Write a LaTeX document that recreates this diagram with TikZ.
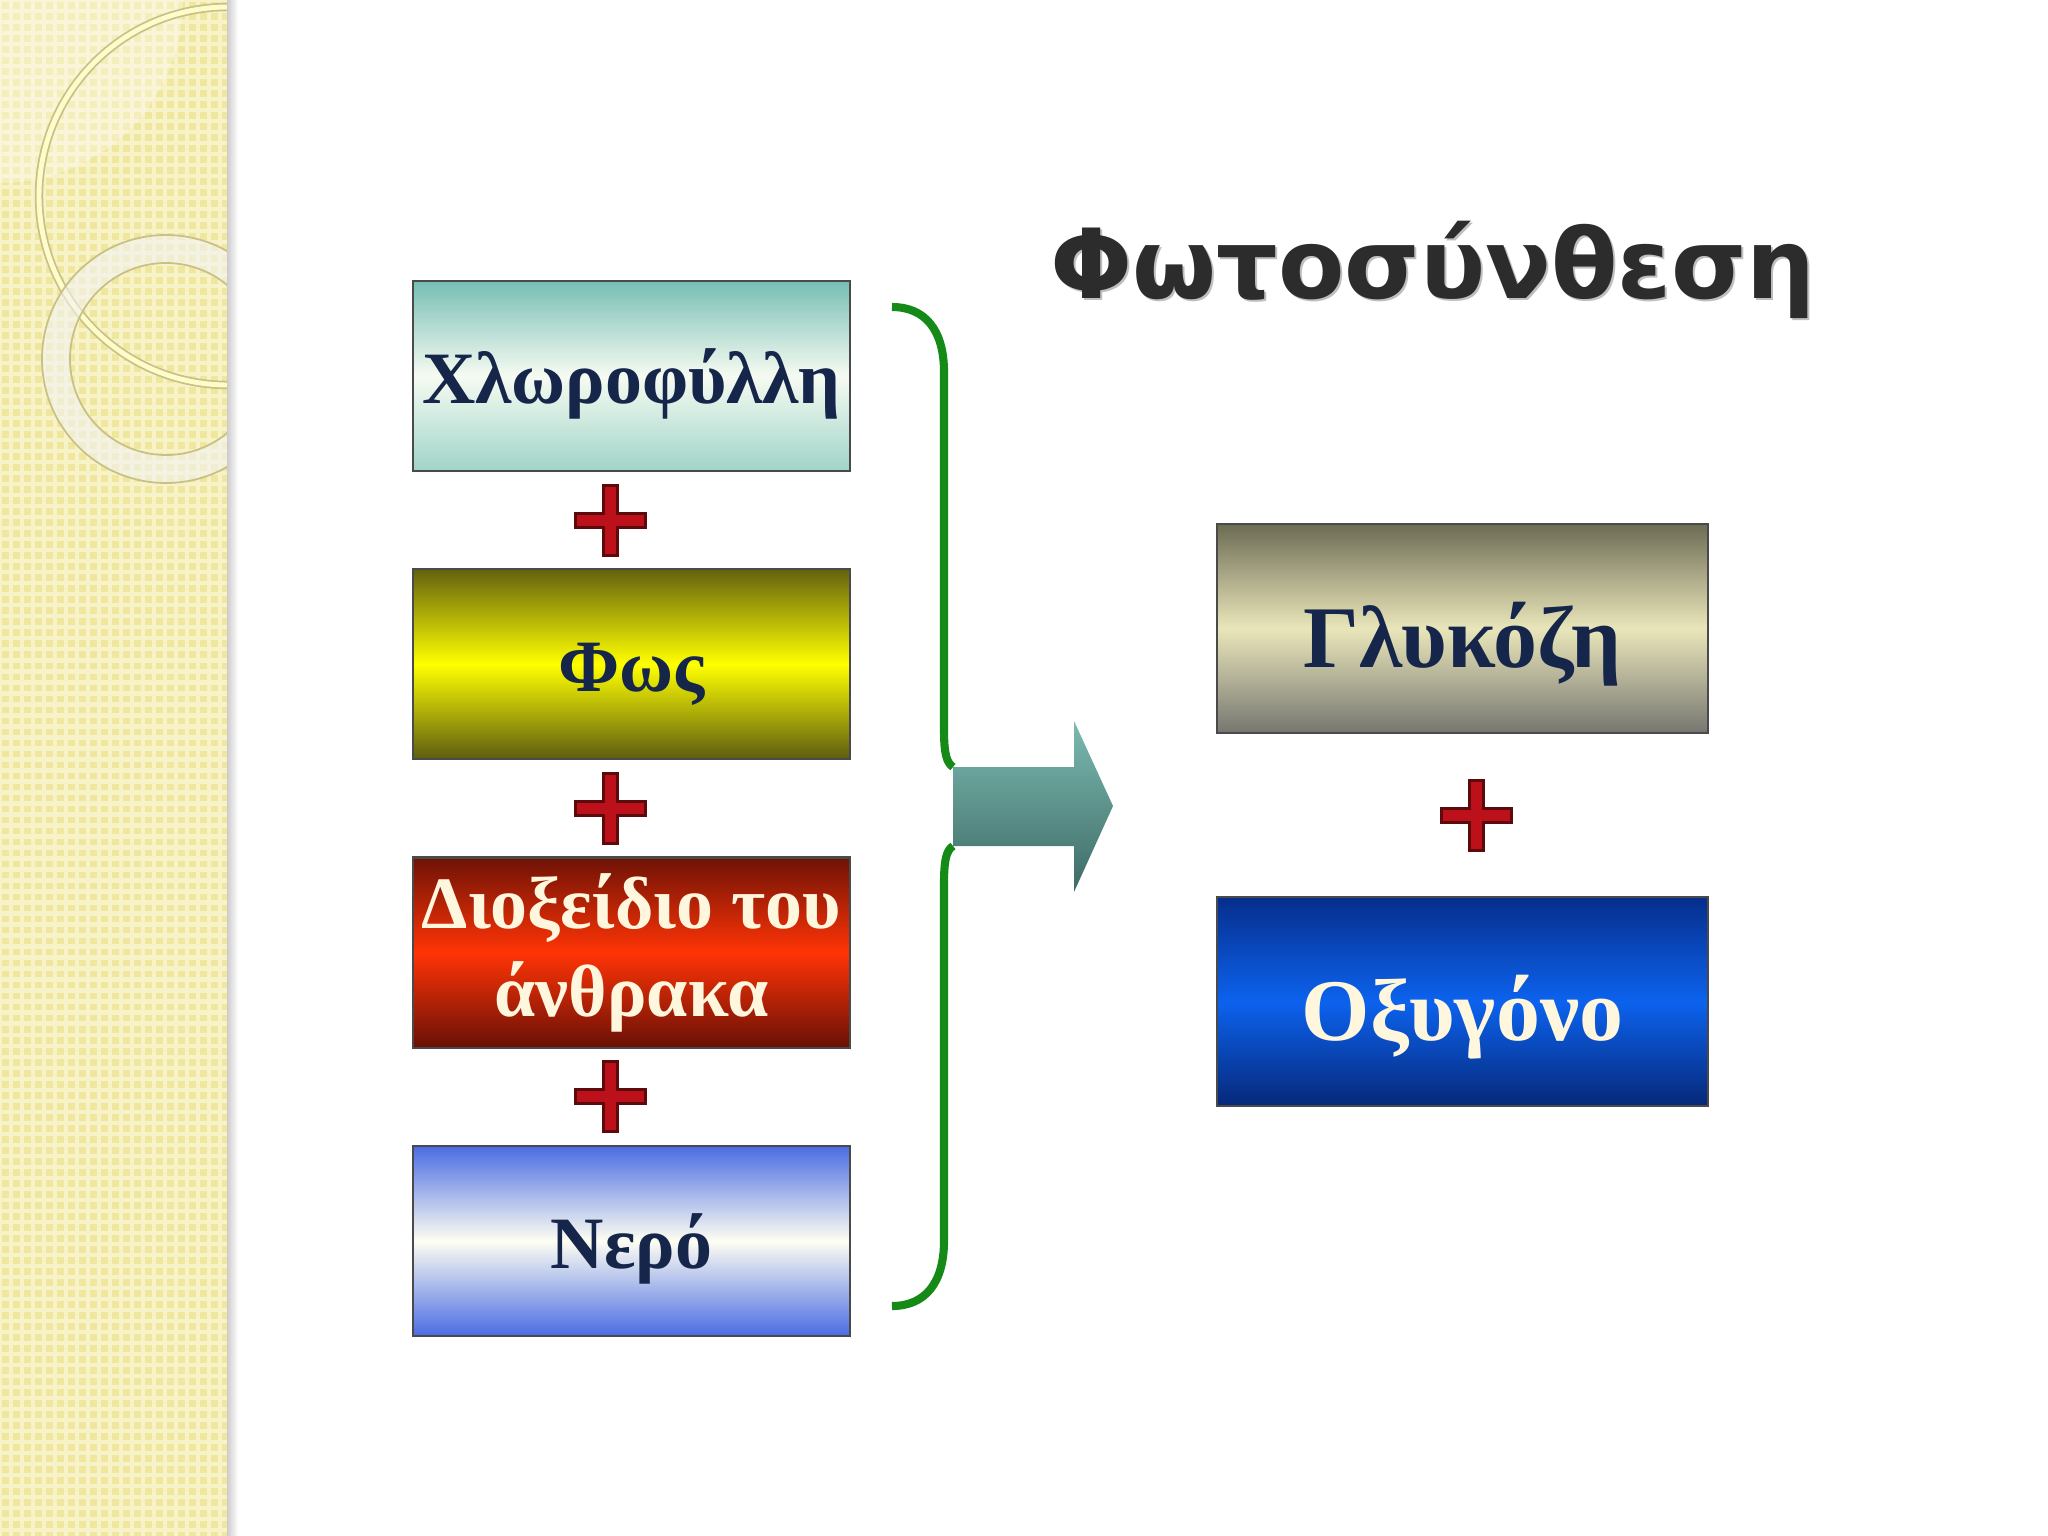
\documentclass[tikz,border=0pt]{standalone}
\usepackage{fontspec}
\setmainfont{Liberation Serif}
\newfontfamily\titlefont{DejaVu Sans}
\usetikzlibrary{positioning}

\definecolor{panelyellow}{HTML}{F0E79E}
\definecolor{panelgrid}{HTML}{F8F2C8}
\definecolor{ringedge}{HTML}{C9C184}
\definecolor{navytext}{HTML}{16264A}
\definecolor{creamtext}{HTML}{FFF6DE}
\definecolor{edgegray}{HTML}{4A4A4A}
\definecolor{bracegreen}{HTML}{168A16}
\definecolor{plusred}{HTML}{BC111B}
\definecolor{plusdark}{HTML}{5C0A0C}
\definecolor{arrowtop}{HTML}{7BBAB0}
\definecolor{arrowbot}{HTML}{3E6A66}
\definecolor{titlegray}{HTML}{2C2C2C}

\tikzset{
  box/.style={draw=edgegray, line width=0.6pt, minimum width=4.37cm, minimum height=1.90cm,
    inner sep=0pt, font=\fontsize{21}{25}\selectfont\bfseries, text=navytext, align=center},
  oneline/.style={text height=15.5pt, text depth=0pt},
  chlbox/.style={box, oneline, top color={rgb,255:red,118;green,190;blue,180}, bottom color={rgb,255:red,160;green,212;blue,200}, middle color={rgb,255:red,246;green,251;blue,242}},
  lightbox/.style={box, oneline, top color={rgb,255:red,100;green,98;blue,14}, bottom color={rgb,255:red,92;green,92;blue,16}, middle color=yellow},
  co2box/.style={box, top color={rgb,255:red,110;green,18;blue,6}, bottom color={rgb,255:red,104;green,16;blue,6}, middle color={rgb,255:red,255;green,52;blue,6}, text=creamtext},
  waterbox/.style={box, oneline, top color={rgb,255:red,74;green,108;blue,228}, bottom color={rgb,255:red,74;green,108;blue,228}, middle color={rgb,255:red,254;green,254;blue,242}},
  bigbox/.style={box, minimum width=4.91cm, minimum height=2.09cm, font=\fontsize{25}{30}\selectfont\bfseries, text height=22pt, text depth=0pt},
  glubox/.style={bigbox, top color={rgb,255:red,108;green,108;blue,84}, bottom color={rgb,255:red,118;green,118;blue,112}, middle color={rgb,255:red,234;green,230;blue,186}},
  oxybox/.style={bigbox, top color={rgb,255:red,6;green,46;blue,140}, bottom color={rgb,255:red,6;green,40;blue,120}, middle color={rgb,255:red,12;green,98;blue,238}, text=creamtext},
  plussign/.pic={
    \filldraw[fill=plusred, draw=plusdark, line width=0.8pt] (-35,-7) -- (-7,-7) -- (-7,-35) -- (7,-35)
      -- (7,-7) -- (35,-7) -- (35,7) -- (7,7) -- (7,35) -- (-7,35) -- (-7,7) -- (-35,7) -- cycle;
  }
}

\begin{document}
\begin{tikzpicture}[x=0.01cm, y=-0.01cm]
  \useasboundingbox (0,0) rectangle (2048,1536);
  \fill[white] (0,0) rectangle (2048,1536);

  % side panel with circles
  \fill[panelyellow] (0,0) rectangle (227,1536);
  \begin{scope}
    \clip (0,0) rectangle (227,1536);
    \draw[panelgrid, line width=1.2pt, step=0.11cm] (0,0) grid (227,1536);
    \fill[white, opacity=0.3] (0,0) circle (183);
    \draw[ringedge, line width=2.4pt] (228,196) circle (189);
    \draw[white!80!yellow, line width=1.4pt] (228,196) circle (189);
    \fill[white!90!gray, opacity=0.6, even odd rule] (166,359) circle (124) (166,359) circle (96);
    \draw[ringedge, line width=0.5pt] (166,359) circle (124) (166,359) circle (96);
  \end{scope}
  \shade[left color=black!20, right color=white] (227,0) rectangle (238,1536);

  % title
  \node[gray!50, font=\titlefont\bfseries\fontsize{27.5}{33}\selectfont, anchor=base] (titleshadow) at (1435,300) {Φωτοσύνθεση};
  \node[titlegray, font=\titlefont\bfseries\fontsize{27.5}{33}\selectfont, anchor=base] (title) at (1433,298) {Φωτοσύνθεση};

  % reactants
  \node[chlbox] (chl) at (631.5,376) {Χλωροφύλλη};
  \node[lightbox, below=0.96cm of chl] (light) {Φως};
  \node[co2box, below=0.96cm of light] (co2) {Διοξείδιο του\\άνθρακα};
  \node[waterbox, below=0.96cm of co2] (water) {Νερό};

  \coordinate[below left=0.48cm and 0.21cm of chl.south] (plusA);
  \coordinate[below left=0.48cm and 0.21cm of light.south] (plusB);
  \coordinate[below left=0.48cm and 0.21cm of co2.south] (plusC);
  \foreach \p in {plusA,plusB,plusC}
    \pic at (\p) {plussign};

  % products
  \node[glubox] (glu) at (1462.5,628.5) {Γλυκόζη};
  \node[oxybox, below=1.62cm of glu] (oxy) {Οξυγόνο};
  \coordinate[below right=0.81cm and 0.14cm of glu.south] (plusR);
  \pic at (plusR) {plussign};

  % brace and arrow
  \coordinate (btop) at (892,307);
  \coordinate (bbot) at (892,1306);
  \coordinate (shaftA) at (953,767);
  \coordinate (shaftB) at (953,846);
  \coordinate (arrowtip) at (1113,806);
  \draw[bracegreen, line width=2.3pt] (btop) .. controls (925,307) and (944,330) .. (944,372)
    -- (944,730) .. controls (944,755) and (947,763) .. (shaftA);
  \draw[bracegreen, line width=2.3pt] (shaftB) .. controls (947,850) and (944,858) .. (944,883)
    -- (944,1241) .. controls (944,1283) and (925,1306) .. (bbot);
  \shade[top color=arrowtop, bottom color=arrowbot] (shaftA) -- (1074,767) -- (1074,721) -- (arrowtip)
    -- (1074,892) -- (1074,846) -- (shaftB) -- cycle;
\end{tikzpicture}
\end{document}
